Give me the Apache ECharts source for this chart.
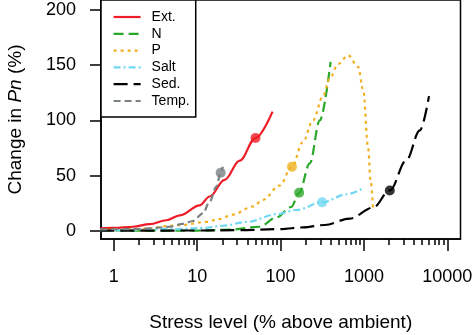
<!DOCTYPE html>
<html><head><meta charset="utf-8">
<script src="https://cdn.jsdelivr.net/npm/echarts@6/dist/echarts.min.js"></script>
<style>html,body{margin:0;padding:0;background:#fff}#c{width:474px;height:335px}</style>
</head><body><div id="c"></div>
<script>
// Stress level (% above ambient) vs change in Pn (%)
const seriesNames = ['Ext.', 'N', 'P', 'Salt', 'Sed.', 'Temp.'];
const extPts = [[0.69,2.2],[1,2.6],[1.7,3.6],[2.7,6],[4.25,9.5],[6.2,14],[10.7,23],[14.1,31],[21.3,46],[32.3,63.5],[50,84],[80,108]];
const nPts = [[0.69,0.5],[3,0],[10,0],[25,1],[56,3.6],[89,12],[134,21.5],[167,34.4],[224,61],[295,100],[398,153]];
const pPts = [[0.69,0.5],[2,1.5],[6.2,5],[12.9,8],[18.4,10.5],[26.4,14.5],[46.7,22],[61.5,28],[97.5,41],[137,58],[184,80],[245,100],[323,122],[388,138],[489,151],[645,159],[850,148.6],[980,127.5],[1120,76],[1200,46],[1290,18]];
const saltPts = [[0.69,0],[5.6,1.5],[12,2.5],[20,4.5],[40,8],[90,15],[155,18.8],[315,25.7],[615,33],[935,37.8]];
const sedPts = [[0.69,0],[10,0.2],[30,0.5],[100,1.5],[186,3],[340,5.2],[675,11],[1290,21],[2040,36.5],[3230,64],[4680,91],[6030,122]];
const tempPts = [[0.69,1.2],[1.7,1.5],[2.7,2.2],[4.7,3.6],[6.7,6.2],[8.9,8.8],[11.7,15.8],[14.1,26.3],[17,40],[19.1,52.6],[20.3,58]];
// highlighted points (one per series)
const extDot = [50,84];
const nDot = [167,34.4];
const pDot = [137,58];
const saltDot = [315,25.7];
const sedDot = [2040,36.5];
const tempDot = [19.1,52.6];

const xMajor = [1,10,100,1000,10000];
const xTickLabels = ['1','10','100','1000','10000'];
const yTicks = [0,50,100,150,200];

const colors = ['#ee1c24','#2aa82a','#f0b020','#70d8f2','#000000','#7a8282'];
const dashes = ['solid',[10,5],[3,4],[7,3,2,3],[14,6],[7,4]];

const lg = v => Math.log10(v);
const xMinor = [];
[1,10,100,1000].forEach(d => { for (let k = 2; k <= 9; k++) xMinor.push(lg(k*d)); });

const allPts = [extPts,nPts,pPts,saltPts,sedPts,tempPts];
const allDots = [extDot,nDot,pDot,saltDot,sedDot,tempDot];

const series = [];
allPts.forEach((pts,i) => {
  series.push({
    name: seriesNames[i], type: 'line', xAxisIndex: 0,
    data: pts.map(p => [lg(p[0]), p[1]]),
    symbol: 'none', smooth: 0.35, smoothMonotone: 'x',
    lineStyle: {color: colors[i], width: 2.2, type: dashes[i]},
    itemStyle: {color: colors[i]}, z: 3
  });
});
allDots.forEach((p,i) => {
  series.push({
    name: 'dot' + i, type: 'scatter', xAxisIndex: 0,
    data: [[lg(p[0]), p[1]]], symbol: 'circle', symbolSize: 10,
    itemStyle: {color: colors[i]}, z: 4
  });
});

const font = 'Liberation Sans, Arial, sans-serif';
const xMin = -0.154, xMax = 4.158;
const chart = echarts.init(document.getElementById('c'), null, {renderer: 'canvas'});
chart.setOption({
  animation: false,
  backgroundColor: '#fff',
  grid: {left: 101, right: 13.5, top: 0, bottom: 96, show: true, borderColor: '#000', borderWidth: 1.5, outerBoundsMode: 'none', containLabel: false},
  legend: {
    data: seriesNames, orient: 'vertical', left: 101, top: 0,
    padding: [10, 6, 9, 11.5], itemWidth: 27, itemHeight: 14, itemGap: 2.8,
    backgroundColor: '#fff', borderColor: '#000', borderWidth: 1.5, borderRadius: 0,
    itemStyle: {color: 'rgba(0,0,0,0)', borderWidth: 0, opacity: 0},
    lineStyle: {width: 2.2},
    textStyle: {fontFamily: font, fontSize: 14, color: '#000', padding: [0,0,0,6]},
    selectedMode: false
  },
  xAxis: [{
    type: 'value', min: xMin, max: xMax, position: 'bottom',
    name: 'Stress level (% above ambient)', nameLocation: 'middle', nameGap: 74,
    nameTextStyle: {fontFamily: font, fontSize: 19, color: '#000'},
    axisLine: {show: true, onZero: false, lineStyle: {color: '#000', width: 1.5}},
    axisTick: {show: true, inside: false, customValues: xMajor.map(lg), length: 12, lineStyle: {color: '#000', width: 1.5}},
    axisLabel: {customValues: xMajor.map(lg), margin: 29, fontFamily: font, fontSize: 18, color: '#000',
      formatter: v => xTickLabels[Math.round(v)]},
    splitLine: {show: false}
  }, {
    type: 'value', min: xMin, max: xMax, position: 'bottom',
    axisLine: {show: false, onZero: false},
    axisTick: {show: true, inside: false, customValues: xMinor, length: 6, lineStyle: {color: '#000', width: 1.5}},
    axisLabel: {show: false}, splitLine: {show: false}
  }],
  yAxis: {
    type: 'value', min: -7.5, max: 209.1,
    name: '{a|Change in }{b|Pn}{a| (%)}', nameLocation: 'middle', nameGap: 76, nameRotate: 90,
    nameTextStyle: {rich: {
      a: {fontFamily: font, fontSize: 19, color: '#000'},
      b: {fontFamily: font, fontSize: 19, color: '#000', fontStyle: 'italic'}
    }},
    axisLine: {show: true, onZero: false, lineStyle: {color: '#000', width: 1.5}},
    axisTick: {show: true, inside: false, customValues: yTicks, length: 11, lineStyle: {color: '#000', width: 1.5}},
    axisLabel: {customValues: yTicks, margin: 25, fontFamily: font, fontSize: 18, color: '#000'},
    splitLine: {show: false}
  },
  series: series
});
</script></body></html>
